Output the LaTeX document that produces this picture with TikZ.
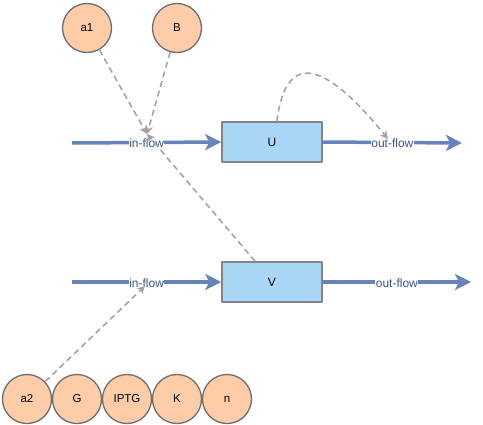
\documentclass[tikz,border=0pt]{standalone}
\usepackage{fontspec}
\setmainfont{Liberation Sans}
\usetikzlibrary{arrows.meta}
\definecolor{peach}{HTML}{FFCCA8}
\definecolor{boxblue}{HTML}{A9D5F7}
\definecolor{flowblue}{HTML}{6783BC}
\definecolor{flowtext}{HTML}{3B5290}
\definecolor{rimgray}{HTML}{6E6E6E}
\definecolor{dashgray}{HTML}{A4A4A4}
\begin{document}
\begin{tikzpicture}[x=1pt,y=-1pt,line join=round,font=\fontsize{12}{14}\selectfont,
    species/.style={circle,draw=rimgray,fill=peach,line width=1.3pt,minimum size=49pt,inner sep=0pt,font=\fontsize{11.5}{13}\selectfont},
    compart/.style={draw=rimgray!85,fill=boxblue,line width=1.5pt,minimum width=100pt,minimum height=40pt},
    flow/.style={flowblue,line width=3.5pt,-{Stealth[length=16pt,width=16pt,inset=4pt]}},
    flowlab/.style={text=flowtext,fill=white,inner sep=0.5pt,yshift=-1pt},
    modif/.style={dashgray,line width=1.6pt,dash pattern=on 6pt off 4pt,-{Stealth[length=8pt,width=8pt]}}]
  \useasboundingbox (0,0) rectangle (483,424);
  % species
  \node[species] (a1) at (87,28) {a1};
  \node[species] (B) at (177,28) {B};
  \node[species] (a2) at (27,399) {a2};
  \node[species] (G) at (77,399) {G};
  \node[species] (IPTG) at (127,399) {IPTG};
  \node[species] (K) at (177,399) {K};
  \node[species] (n) at (227,399) {n};
  % compartments
  \node[compart] (U) at (272,142) {U};
  \node[compart] (V) at (272,282) {V};
  \coordinate (srcU) at (72,143);
  \coordinate (sinkU) at (462,143);
  \coordinate (srcV) at (72,282);
  \coordinate (sinkV) at (471,282);
  % flows
  \draw[flow] (srcU) -- node[flowlab] (inU) {in-flow} (U.west);
  \draw[flow] (U.east) -- node[flowlab] (outU) {out-flow} (sinkU);
  \draw[flow] (srcV) -- node[flowlab] (inV) {in-flow} (V.west);
  \draw[flow] (V.east) -- node[flowlab] (outV) {out-flow} (sinkV);
  % modifiers
  \coordinate (hubU) at (147,134);
  \coordinate (hubV) at (145,286);
  \coordinate (hubO) at (388,139);
  \draw[modif] (a1) -- (hubU);
  \draw[modif] (B) -- (hubU);
  \draw[modif] ([xshift=-17pt]V.north) -- (hubU);
  \draw[modif] (a2) -- (hubV);
  \draw[modif] ([xshift=5pt]U.north) .. controls (285,55) and (320,55) .. (hubO);
\end{tikzpicture}
\end{document}
